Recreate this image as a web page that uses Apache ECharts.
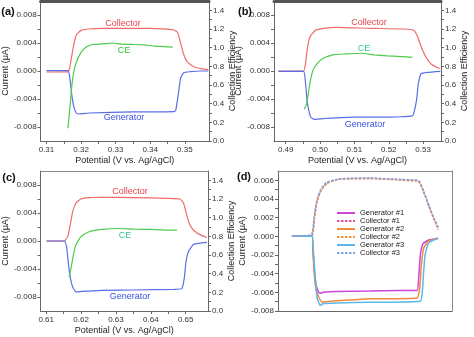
<!DOCTYPE html>
<html>
<head>
<meta charset="utf-8">
<script src="https://cdn.jsdelivr.net/npm/echarts@6/dist/echarts.min.js"></script>
<style>
  html, body { margin: 0; padding: 0; background: #fff; }
  #main { width: 474px; height: 337px; }
</style>
</head>
<body>
<div id="main"></div>
<script>
// 刻度标签
const aXLabels = [0.31, 0.32, 0.33, 0.34, 0.35]
const bXLabels = [0.49, 0.50, 0.51, 0.52, 0.53]
const cXLabels = [0.61, 0.62, 0.63, 0.64, 0.65]
const currentLabels = [-0.008, -0.004, 0, 0.004, 0.008]
const ceLabels = [0, 0.2, 0.4, 0.6, 0.8, 1.0, 1.2, 1.4]
const dYLabels = [-0.008, -0.006, -0.004, -0.002, 0, 0.002, 0.004, 0.006]

// (a) 数据 [电位 V, 电流 μA] / [电位, 收集效率]
const aCollector = [[0.310, -0.00014], [0.3162, -0.00012], [0.3167, 0.0004], [0.3176, 0.003], [0.3186, 0.0051], [0.3200, 0.0058], [0.3224, 0.006], [0.3262, 0.0061], [0.3403, 0.0061], [0.3468, 0.00586], [0.3479, 0.0055], [0.3488, 0.004], [0.3496, 0.0025], [0.3507, 0.0013], [0.3526, 0.0006], [0.355, 0.0003], [0.3568, 0.0002]]
const aGenerator = [[0.310, 0.00005], [0.3162, 0.00005], [0.3167, -0.0008], [0.3174, -0.0037], [0.3179, -0.0051], [0.3186, -0.006], [0.3195, -0.00614], [0.3224, -0.006], [0.3350, -0.00585], [0.3469, -0.0058], [0.3474, -0.0056], [0.3483, -0.0027], [0.3488, -0.001], [0.3497, -0.00024], [0.3516, -0.0001], [0.3545, 0], [0.3568, 0]]
const aCE = [[0.3162, 0.137], [0.3167, 0.32], [0.3172, 0.54], [0.3178, 0.72], [0.3186, 0.84], [0.3200, 0.95], [0.3214, 1.005], [0.3233, 1.034], [0.3261, 1.04], [0.3290, 1.05], [0.3318, 1.037], [0.3356, 1.034], [0.3384, 1.03], [0.3412, 1.016], [0.3440, 1.012], [0.3465, 1.005]]

// (b) 数据
const bCollector = [[0.4879, 0], [0.4952, 0], [0.4957, 0.00086], [0.4964, 0.0035], [0.4971, 0.0049], [0.4986, 0.0058], [0.5010, 0.0061], [0.5050, 0.00624], [0.5147, 0.0061], [0.5245, 0.006], [0.5274, 0.0058], [0.5284, 0.0049], [0.5294, 0.0035], [0.5308, 0.002], [0.5323, 0.001], [0.5342, 0.00047], [0.5350, 0.0004]]
const bGenerator = [[0.4879, -0.00005], [0.4952, -0.00005], [0.4957, -0.0013], [0.4962, -0.0041], [0.4967, -0.0056], [0.4973, -0.0066], [0.4983, -0.0069], [0.5010, -0.0068], [0.5098, -0.0066], [0.5196, -0.0066], [0.5269, -0.0064], [0.5274, -0.0058], [0.5281, -0.0041], [0.5286, -0.0018], [0.5294, -0.0004], [0.5313, -0.0002], [0.5350, -0.00005]]
const bCE = [[0.4954, 0.34], [0.4961, 0.395], [0.4964, 0.466], [0.4970, 0.61], [0.4979, 0.754], [0.4991, 0.826], [0.5010, 0.89], [0.5040, 0.926], [0.5079, 0.933], [0.5118, 0.94], [0.5157, 0.923], [0.5196, 0.912], [0.5235, 0.905], [0.5269, 0.897]]

// (c) 数据
const cCollector = [[0.6101, 0], [0.6152, 0], [0.6162, 0.00066], [0.6169, 0.0023], [0.6176, 0.0042], [0.6185, 0.0054], [0.6199, 0.006], [0.6223, 0.0062], [0.6260, 0.00625], [0.6353, 0.0062], [0.6447, 0.0061], [0.6484, 0.006], [0.6494, 0.0054], [0.6503, 0.0037], [0.6512, 0.0023], [0.6526, 0.0014], [0.6545, 0.0008], [0.6561, 0.0005]]
const cGenerator = [[0.6101, 0], [0.6152, 0], [0.6159, -0.001], [0.6164, -0.0034], [0.6171, -0.0057], [0.6178, -0.0068], [0.6187, -0.0073], [0.6204, -0.0072], [0.6260, -0.00706], [0.6353, -0.007], [0.6466, -0.0069], [0.6489, -0.0068], [0.6496, -0.0053], [0.6501, -0.0029], [0.6508, -0.0015], [0.6522, -0.0005], [0.6540, -0.0003], [0.6561, -0.0002]]
const cCE = [[0.6166, 0.365], [0.6171, 0.455], [0.6178, 0.598], [0.6185, 0.705], [0.6199, 0.795], [0.6223, 0.849], [0.6260, 0.874], [0.6307, 0.884], [0.6353, 0.877], [0.6400, 0.874], [0.6447, 0.866], [0.6475, 0.866]]

// (d) 数据 (横轴无刻度, 用相对位置 0-100)
const dNames = ['Generator #1', 'Collector #1', 'Generator #2', 'Collector #2', 'Generator #3', 'Collector #3']
const dGen1 = [[8, 0], [19.5, 0], [20.1, -0.0015], [21, -0.0038], [22, -0.0053], [23.4, -0.006], [24.3, -0.0061], [26, -0.006], [33.9, -0.0059], [53, -0.00585], [70, -0.0058], [79.9, -0.0058], [80.8, -0.0046], [81.8, -0.002], [83.3, -0.0008], [86.6, -0.0004], [92, -0.0002]]
const dCol1 = [[8, 0], [19.5, 0.0001], [20.9, 0.0019], [22.4, 0.0037], [24.7, 0.0049], [28.2, 0.0057], [33.9, 0.0061], [39.7, 0.0062], [53.1, 0.0062], [68.4, 0.0061], [79.9, 0.006], [81.4, 0.0058], [83.7, 0.0048], [86.6, 0.0033], [89.5, 0.0019], [91.4, 0.0011], [92, 0.0007]]
const dGen2 = [[8, 0], [19.5, 0], [20.1, -0.0017], [20.9, -0.0042], [22, -0.0058], [23.4, -0.0065], [25.3, -0.00706], [28, -0.007], [33.9, -0.0069], [53.1, -0.0067], [79.9, -0.0066], [81.4, -0.0056], [82.4, -0.0031], [83.7, -0.0013], [86.6, -0.0005], [92, -0.0002]]
const dCol2 = [[8, 0], [19.5, 0.0001], [21, 0.002], [22.5, 0.0038], [25, 0.005], [28.5, 0.0057], [34, 0.0061], [40, 0.00615], [53, 0.0062], [68, 0.00605], [80, 0.0059], [81.5, 0.0057], [84, 0.0046], [87, 0.0031], [90, 0.0017], [92, 0.0009]]
const dGen3 = [[8, 0], [19.8, 0], [20.1, -0.001], [21.5, -0.0046], [22.4, -0.0065], [24.3, -0.0074], [26.2, -0.0072], [33.9, -0.00713], [53.1, -0.00706], [81.8, -0.00695], [82.9, -0.006], [83.7, -0.0038], [84.6, -0.0019], [86.6, -0.0007], [92, -0.0002]]
const dCol3 = [[8, 0], [19.2, 0.0002], [20.7, 0.002], [22.2, 0.0038], [24.5, 0.005], [28, 0.0058], [34, 0.0061], [40, 0.0062], [53, 0.00625], [68, 0.0061], [80, 0.006], [81.6, 0.0058], [84, 0.0047], [87, 0.0032], [90, 0.0018], [92, 0.001]]

const FONT = 'Liberation Sans, Arial, sans-serif'
const AXIS = '#666'
const RED = '#f06a6a', GREEN = '#4ccb4c', BLUE = '#5a6ee6'

// 主刻度之间加一个次刻度
function withMinor(list) {
    let out = []
    for (let i = 0; i < list.length; i++) {
        out.push(list[i])
        if (i < list.length - 1) out.push(+((list[i] + list[i + 1]) / 2).toFixed(6))
    }
    return out
}

let myChart = echarts.init(document.getElementById('main'))

const grids = [
    { left: 37, top: 1, width: 172, height: 140 },
    { left: 274, top: 1, width: 167, height: 140 },
    { left: 37, top: 171, width: 171, height: 140 },
    { left: 278, top: 171, width: 174, height: 140 }
]
const xRanges = [[0.3083, 0.357], [0.4866, 0.5352], [0.6084, 0.6564]]
const xLabelSets = [aXLabels, bXLabels, cXLabels]

let xAxis = [], yAxis = []
grids.forEach(function (g, i) {
    let bottom = {
        type: 'value', gridIndex: i, position: 'bottom',
        splitLine: { show: false },
        axisLine: { show: true, onZero: false, lineStyle: { color: AXIS, width: 1 } }
    }
    if (i < 3) {
        Object.assign(bottom, {
            min: xRanges[i][0], max: xRanges[i][1],
            name: 'Potential (V vs. Ag/AgCl)', nameLocation: 'middle', nameGap: 15,
            nameTextStyle: { fontFamily: FONT, fontSize: 9, color: '#222' },
            axisTick: { show: true, length: 3, lineStyle: { color: AXIS }, customValues: withMinor(xLabelSets[i]) },
            axisLabel: { fontFamily: FONT, fontSize: 8, color: '#333', margin: 5, customValues: xLabelSets[i], formatter: v => v.toFixed(2) }
        })
    } else {
        Object.assign(bottom, {
            min: 0, max: 100,
            axisTick: { show: false }, axisLabel: { show: false }
        })
    }
    xAxis.push(bottom)
    xAxis.push({
        type: 'value', gridIndex: i, position: 'top', min: 0, max: 1,
        axisLine: { show: true, onZero: false, lineStyle: { color: i < 2 ? '#555' : '#888', width: i < 2 ? 3 : 1 } },
        axisTick: { show: false }, axisLabel: { show: false }, splitLine: { show: false }
    })

    let left = {
        type: 'value', gridIndex: i, position: 'left',
        name: 'Current (\u03bcA)', nameLocation: 'middle', nameGap: i === 3 ? 22 : 21,
        nameTextStyle: { fontFamily: FONT, fontSize: 9, color: '#222' },
        splitLine: { show: false },
        axisLine: { show: true, onZero: false, lineStyle: { color: AXIS } }
    }
    let yl = i < 3 ? currentLabels : dYLabels
    Object.assign(left, {
        min: i < 3 ? -0.01 : -0.008, max: i < 3 ? 0.01 : 0.007,
        axisTick: { show: true, length: 3, lineStyle: { color: AXIS }, customValues: withMinor(yl) },
        axisLabel: { fontFamily: FONT, fontSize: 8, color: '#333', margin: 4, customValues: yl, formatter: v => v.toFixed(3) }
    })
    yAxis.push(left)

    let right = {
        type: 'value', gridIndex: i, position: 'right', min: 0, max: 1.5,
        splitLine: { show: false },
        axisLine: { show: true, onZero: false, lineStyle: { color: i < 3 ? AXIS : '#888' } }
    }
    if (i < 3) {
        Object.assign(right, {
            name: 'Collection Efficiency', nameLocation: 'middle', nameGap: 13, nameRotate: 90,
            nameTextStyle: { fontFamily: FONT, fontSize: 9, color: '#222' },
            axisTick: { show: true, length: 3, lineStyle: { color: AXIS }, customValues: withMinor(ceLabels) },
            axisLabel: { fontFamily: FONT, fontSize: 8, color: '#333', margin: 4, customValues: ceLabels, formatter: v => v.toFixed(1) }
        })
    } else {
        Object.assign(right, { axisTick: { show: false }, axisLabel: { show: false } })
    }
    yAxis.push(right)
})

function line(data, grid, yRight, color, extra) {
    return Object.assign({
        type: 'line', data: data, xAxisIndex: grid * 2, yAxisIndex: grid * 2 + (yRight ? 1 : 0),
        showSymbol: false, symbol: 'none', smooth: 0.15, animation: false,
        lineStyle: { color: color, width: 1.2 }, itemStyle: { color: color }
    }, extra || {})
}

let series = [
    line(aCollector, 0, false, RED), line(aGenerator, 0, false, BLUE), line(aCE, 0, true, GREEN),
    line(bCollector, 1, false, RED), line(bGenerator, 1, false, BLUE), line(bCE, 1, true, GREEN),
    line(cCollector, 2, false, RED), line(cGenerator, 2, false, BLUE), line(cCE, 2, true, GREEN)
]
const dData = [dGen1, dCol1, dGen2, dCol2, dGen3, dCol3]
const dColors = ['#cc44d8', '#e0509e', '#f08a3c', '#f0963c', '#5cb8e8', '#7aa6e4']
dData.forEach(function (d, k) {
    let dashed = k % 2 === 1
    series.push(line(d, 3, false, dColors[k], {
        name: dNames[k],
        lineStyle: { color: dColors[k], width: 1.5, type: dashed ? [2.5, 1.5] : 'solid' }
    }))
})

function txt(text, x, y, color, size, weight) {
    return {
        type: 'text', x: x, y: y,
        style: { text: text, fill: color, font: (weight || 'normal') + ' ' + size + 'px ' + FONT, textAlign: 'center', textVerticalAlign: 'middle' }
    }
}

myChart.setOption({
    animation: false,
    grid: grids,
    xAxis: xAxis,
    yAxis: yAxis,
    legend: {
        data: dNames, orient: 'vertical', left: 336, top: 209,
        padding: 0, itemWidth: 18, itemHeight: 9, itemGap: 0,
        itemStyle: { opacity: 0 },
        textStyle: { fontFamily: FONT, fontSize: 7.5, color: '#222' }
    },
    series: series,
    graphic: [
        txt('(a)', 8, 12, '#111', 11, 'bold'),
        txt('(b)', 245, 12, '#111', 11, 'bold'),
        txt('(c)', 9, 178, '#111', 11, 'bold'),
        txt('(d)', 244, 177, '#111', 11, 'bold'),
        txt('Collector', 123, 24, '#e8434a', 9),
        txt('CE', 124, 51, '#35c035', 9),
        txt('Generator', 124, 118, '#3a4fdc', 9),
        txt('Collector', 369, 23, '#e8434a', 9),
        txt('CE', 364, 49, '#3cc49a', 9),
        txt('Generator', 365, 125, '#3a4fdc', 9),
        txt('Collector', 130, 192, '#e8434a', 9),
        txt('CE', 125, 236, '#3cc49a', 9),
        txt('Generator', 130, 297, '#3a4fdc', 9)
    ]
})
</script>
</body>
</html>
